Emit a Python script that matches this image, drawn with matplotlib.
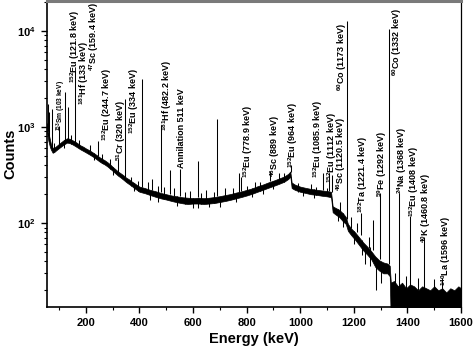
import math
import matplotlib
matplotlib.use("Agg")
import matplotlib.pyplot as plt
from matplotlib.ticker import MultipleLocator, FixedLocator, FuncFormatter, LogLocator, NullFormatter

plt.rcParams['font.family'] = ['Liberation Sans', 'DejaVu Sans']
plt.rcParams['font.weight'] = 'bold'
plt.rcParams['mathtext.fontset'] = 'custom'
plt.rcParams['mathtext.rm'] = 'Liberation Sans:bold'
plt.rcParams['mathtext.bf'] = 'Liberation Sans:bold'
plt.rcParams['mathtext.it'] = 'Liberation Sans:bold'

# ---------------- data ----------------
cont_energy = [55, 60, 66, 70, 76, 82, 90, 100, 110, 120, 130, 140, 150, 160, 170, 180, 190,
               200, 210, 220, 230, 240, 250, 260, 270, 280, 290, 300, 310, 320, 330, 340, 350,
               360, 370, 380, 390, 400, 420, 440, 460, 480, 500, 520, 540, 560, 580, 600, 620,
               640, 660, 680, 700, 720, 740, 760, 780, 800, 820, 840, 860, 880, 900, 920, 940,
               955, 963, 968, 980, 1000, 1020, 1040, 1060, 1080, 1100, 1115, 1121, 1130, 1145,
               1160, 1170, 1178, 1190, 1205, 1220, 1235, 1250, 1265, 1280, 1295, 1310, 1325,
               1334, 1338, 1350, 1365, 1380, 1395, 1410, 1425, 1440, 1455, 1470, 1485, 1500,
               1515, 1530, 1545, 1560, 1575, 1590, 1600]
cont_low = [880, 720, 620, 580, 540, 550, 575, 605, 635, 665, 690, 680, 660, 635, 610, 585, 565,
            545, 525, 505, 485, 462, 440, 422, 408, 390, 370, 350, 330, 312, 298, 283, 268,
            256, 245, 232, 222, 212, 205, 196, 188, 181, 176, 170, 165, 161, 158, 160, 160,
            158, 160, 162, 166, 170, 175, 181, 187, 194, 202, 212, 222, 233, 244, 256, 270,
            288, 305, 232, 222, 212, 206, 200, 197, 193, 190, 186, 130, 124, 116,
            104, 98, 83, 75, 67, 59, 52, 47, 42, 35, 32, 30, 30,
            28, 9, 9, 9, 9, 9, 9, 9, 9, 9, 9, 9, 9,
            9, 9, 9, 9, 9, 9, 9]
cont_high = [1100, 880, 740, 660, 610, 610, 635, 670, 705, 740, 765, 755, 730, 705, 675, 645, 625,
             600, 580, 558, 535, 512, 488, 468, 452, 432, 410, 385, 365, 345, 330, 315, 298,
             287, 273, 262, 250, 240, 232, 222, 215, 206, 200, 194, 190, 186, 184, 182, 184,
             182, 184, 187, 191, 196, 201, 208, 214, 222, 230, 242, 252, 265, 277, 291, 306,
             326, 345, 265, 252, 240, 233, 227, 223, 219, 216, 212, 150, 145, 138,
             126, 116, 98, 88, 80, 71, 63, 57, 51, 45, 41, 39, 38,
             36, 24, 25, 22, 24, 21, 23, 22, 20, 22, 21, 20, 22,
             20, 21, 19, 21, 20, 22, 21]

peak_energy = [57, 63, 72, 100, 121.8, 133, 159, 215, 245, 320, 345, 411, 446, 479, 513, 552,
               617, 688, 770, 778, 889, 964, 1085, 1109, 1120, 1173, 1190, 1225, 1273, 1299,
               1332, 1352, 1370, 1411, 1463, 1530,
               430, 470, 530, 590, 650, 720, 830, 920, 1040, 1150, 1210, 1255, 1395, 1440, 1500,
               80, 145, 175, 260, 290, 370, 395, 490, 570, 630, 680, 750, 800, 850, 940, 990,
               1060, 1100]
peak_top = [1740, 1450, 1550, 1020, 2340, 1630, 3800, 650, 720, 470, 1950, 3150, 290, 1050, 360, 370,
            440, 1200, 330, 300, 350, 400, 330, 330, 320, 12700, 115, 128, 107, 208,
            10500, 30, 205, 120, 71, 27,
            265, 245, 230, 215, 222, 232, 265, 330, 255, 165, 100, 72, 28, 27, 26,
            680, 830, 730, 520, 460, 305, 275, 235, 210, 205, 210, 230, 245, 270, 335, 262,
            240, 232]
peak_base = [900, 750, 600, 650, 720, 760, 700, 560, 500, 340, 300, 240, 220, 210, 200, 190,
             185, 190, 210, 215, 275, 340, 220, 215, 210, 110, 90, 75, 52, 42,
             38, 20, 20, 20, 20, 18,
             220, 205, 190, 180, 180, 190, 230, 280, 220, 130, 80, 55, 20, 20, 20,
             550, 670, 600, 420, 370, 245, 215, 178, 160, 160, 162, 178, 194, 215, 270, 210,
             197, 190]

dip_energy = [440, 540, 600, 700, 860, 1010, 1240, 1282, 1300,
              120, 230, 300, 380, 470, 620, 660, 760, 820, 900, 1050, 1140, 1160, 1200, 1230, 1260]
dip_bottom = [175, 150, 145, 148, 200, 190, 38, 20, 24,
              610, 455, 320, 215, 165, 145, 147, 165, 185, 225, 182, 105, 92, 60, 47, 36]
dip_top = [215, 190, 182, 188, 245, 230, 55, 40, 35,
           740, 535, 385, 262, 210, 184, 184, 208, 230, 277, 225, 140, 126, 82, 66, 57]

label_energy = [107, 161, 192.5, 230, 278, 330, 379, 502, 556, 804, 908, 975, 1068, 1120, 1154,
                1156, 1362, 1234, 1307, 1381, 1426, 1470, 1545]
label_count = [916, 2890, 1707, 3800, 721, 448, 851, 916, 378, 298, 305, 378, 298, 264, 218,
               2385, 3410, 129, 185, 203, 117, 62, 22]
label_text = [r'$^{153}$Sm (103 keV)', r'$^{152}$Eu (121.8 keV)', r'$^{181}$Hf (133 keV)',
              r'$^{47}$Sc (159.4 keV)', r'$^{152}$Eu (244.7 keV)', r'$^{51}$Cr (320 keV)',
              r'$^{152}$Eu (334 keV)', r'$^{181}$Hf (482.2 keV)', 'Annilation 511 keV',
              r'$^{152}$Eu (778.9 keV)', r'$^{46}$Sc (889 keV)', r'$^{152}$Eu (964 keV)',
              r'$^{152}$Eu (1085.9 keV)', r'$^{152}$Eu (1112 keV)', r'$^{46}$Sc (1120.5 keV)',
              r'$^{60}$Co (1173 keV)', r'$^{60}$Co (1332 keV)', r'$^{182}$Ta (1221.4 keV)',
              r'$^{59}$Fe (1292 keV)', r'$^{24}$Na (1368 keV)', r'$^{152}$Eu (1408 keV)',
              r'$^{40}$K (1460.8 keV)', r'$^{140}$La (1596 keV)']
label_size = [4.8] + [6.5] * 22

x_ticks = [200, 400, 600, 800, 1000, 1200, 1400, 1600]

# ---------------- figure ----------------
fig = plt.figure(figsize=(4.74, 3.5), dpi=100)
ax = fig.add_axes([0.0992, 0.1229, 0.8734, 0.874])

ax.fill_between(cont_energy, cont_low, cont_high, color='black', lw=0.5, zorder=2)
ax.vlines(peak_energy, peak_base, peak_top, color='black', lw=0.75, zorder=3)
ax.vlines(dip_energy, dip_bottom, dip_top, color='black', lw=0.75, zorder=3)

for e, c, t, s in zip(label_energy, label_count, label_text, label_size):
    ax.text(e, c, t, rotation=90, ha='center', va='bottom', fontsize=s,
            fontweight='bold', zorder=4)

ax.set_yscale('log')
ax.set_xlim(55, 1600)
ax.set_ylim(13.4, 20500)

ax.xaxis.set_major_locator(FixedLocator(x_ticks))
ax.xaxis.set_minor_locator(MultipleLocator(100))
ax.yaxis.set_major_locator(LogLocator(base=10, numticks=10))
ax.yaxis.set_minor_locator(LogLocator(base=10, subs=[2, 3, 4, 5, 6, 7, 8, 9], numticks=20))
ax.yaxis.set_minor_formatter(NullFormatter())
ax.yaxis.set_major_formatter(FuncFormatter(lambda v, p: r'$\mathbf{10^{%d}}$' % round(math.log10(v))))

ax.tick_params(axis='both', which='major', direction='out', length=4, width=1,
               labelsize=8, pad=4)
ax.tick_params(axis='both', which='minor', direction='out', length=2.5, width=0.8)
for lab in ax.get_xticklabels() + ax.get_yticklabels():
    lab.set_fontweight('bold')

for side in ['left', 'bottom']:
    ax.spines[side].set_linewidth(1.2)
ax.spines['right'].set_linewidth(0.9)
ax.spines['top'].set_linewidth(2.2)
ax.spines['top'].set_color('#7a7a7a')

ax.set_xlabel('Energy (keV)', fontsize=10.5, fontweight='bold', labelpad=3)
ax.set_ylabel('Counts', fontsize=10.5, fontweight='bold')
ax.yaxis.set_label_coords(-0.072, 0.5)

fig.savefig('out.png', dpi=100)
